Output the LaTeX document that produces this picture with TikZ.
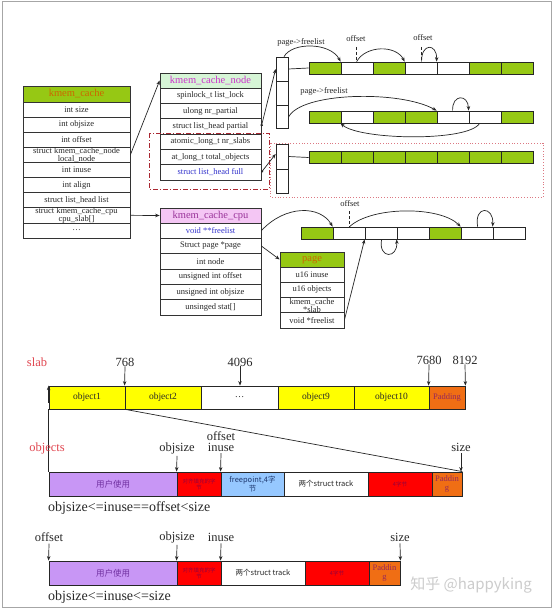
\documentclass[tikz,border=0pt]{standalone}
\usepackage{fontspec}
\setmainfont{Liberation Serif}
\newfontfamily\cjk{Noto Sans CJK SC}
\usetikzlibrary{arrows.meta}
\definecolor{sgreen}{RGB}{150,200,20}
\definecolor{kcorange}{RGB}{204,102,0}
\definecolor{nodehead}{RGB}{214,245,214}
\definecolor{nodetext}{RGB}{204,51,204}
\definecolor{cpuhead}{RGB}{244,198,244}
\definecolor{cputext}{RGB}{153,51,153}
\definecolor{fieldblue}{RGB}{51,51,204}
\definecolor{dashred}{RGB}{170,40,50}
\definecolor{dotpink}{RGB}{220,120,130}
\definecolor{labred}{RGB}{225,70,80}
\definecolor{yel}{RGB}{255,255,0}
\definecolor{padorange}{RGB}{240,110,20}
\definecolor{padtext}{RGB}{150,40,90}
\definecolor{lav}{RGB}{200,150,245}
\definecolor{lavtext}{RGB}{112,48,160}
\definecolor{lblue}{RGB}{150,200,255}
\definecolor{fptext}{RGB}{30,55,110}
\definecolor{redtext}{RGB}{150,0,60}
\definecolor{ink}{RGB}{40,40,40}
\tikzset{
  cell/.style={draw=black!80, line width=0.7pt, inner sep=0pt, align=center, text=ink, font=\fontsize{8.5}{6.8}\selectfont},
  head/.style={cell, font=\fontsize{10.5}{10}\selectfont},
  slabcell/.style={draw=black!85, line width=0.8pt, inner sep=0pt, minimum width=32pt, minimum height=12pt},
  colbox/.style={draw=black!85, line width=0.7pt, inner sep=0pt, minimum width=12pt},
  arr/.style={-{Stealth[length=4.5pt,width=3.5pt]}, line width=0.7pt, black!85},
  darr/.style={{Circle[length=2.5pt]}-{Stealth[length=4.5pt,width=3.5pt]}, line width=0.7pt, black!85},
  conn/.style={line width=0.7pt, black!85},
  small/.style={font=\fontsize{8.5}{8.5}\selectfont, inner sep=0pt, text=ink},
  bar/.style={draw=black!85, line width=0.8pt, inner sep=0pt, minimum height=23pt, align=center, text=ink, font=\fontsize{9.5}{9.5}\selectfont},
  tick/.style={font=\fontsize{12.5}{11}\selectfont, inner sep=0pt, align=center, text=ink},
  redlab/.style={font=\fontsize{12.5}{12.5}\selectfont, text=labred, inner sep=0pt},
  formula/.style={font=\fontsize{14}{14}\selectfont, inner sep=0pt, anchor=west, text=ink},
  cjktxt/.style={font=\cjk\fontsize{8.5}{9}\selectfont},
  redcjk/.style={font=\cjk\fontsize{5.5}{6}\selectfont},
}
\begin{document}
\begin{tikzpicture}[x=1pt,y=-1pt]
\useasboundingbox (0,0) rectangle (554,610);
\fill[white] (0,0) rectangle (554,610);
\draw[gray!70, line width=1pt] (2,2) rectangle (551,607);

% kmem_cache
\node[head, fill=sgreen, text=kcorange, minimum width=107pt, minimum height=16pt] (kc0) at (76.5,94) {kmem\_cache};
\foreach \t [count=\i] in {int size, int objsize, int offset, {struct kmem\_cache\_node\\local\_node}, int inuse, int align, struct list\_head list, {struct kmem\_cache\_cpu\\cpu\_slab[]}}
  \node[cell, minimum width=107pt, minimum height=15.11pt] (kc\i) at (76.5,{102+15.11*(\i-0.5)}) {\t};
\node[cell, minimum width=107pt, minimum height=15.11pt] (kc9) at (76.5,{102+15.11*8.5}) {\ldots};

% kmem_cache_node
\node[head, fill=nodehead, text=nodetext, minimum width=101pt, minimum height=15pt] (kn0) at (210.5,80.5) {kmem\_cache\_node};
\foreach \t [count=\i] in {spinlock\_t list\_lock, ulong nr\_partial, struct list\_head partial, atomic\_long\_t nr\_slabs, at\_long\_t total\_objects, \textcolor{fieldblue}{struct list\_head full}}
  \node[cell, minimum width=101pt, minimum height=15.33pt] (kn\i) at (210.5,{88+15.33*(\i-0.5)}) {\t};

% kmem_cache_cpu
\node[head, fill=cpuhead, text=cputext, minimum width=101pt, minimum height=15pt] (kcc0) at (210.5,215.5) {kmem\_cache\_cpu};
\foreach \t [count=\i] in {\textcolor{fieldblue}{void **freelist}, Struct page *page, int node, unsigned int offset, unsigned int objsize, unsinged stat[]}
  \node[cell, minimum width=101pt, minimum height=15.33pt] (kcc\i) at (210.5,{223+15.33*(\i-0.5)}) {\t};

% page
\node[head, fill=sgreen, text=kcorange, minimum width=64pt, minimum height=15pt] (pg0) at (312,259.5) {page};
\foreach \t [count=\i] in {u16 inuse, u16 objects, {kmem\_cache\\*slab}, void *freelist}
  \node[cell, minimum width=64pt, minimum height=15.25pt] (pg\i) at (312,{267+15.25*(\i-0.5)}) {\t};

% boxes
\draw[dashred, line width=0.8pt, dash pattern=on 5pt off 2pt on 1pt off 2pt] (149,133) rectangle (269,189);
\draw[dotpink, line width=0.8pt, dotted] (270,143) rectangle (543,197);

% page pointer columns
\node[colbox, minimum height=24pt] (c1a) at (282,69) {};
\node[colbox, minimum height=24pt] (c1b) at (282,93) {};
\node[colbox, minimum height=23pt] (c1c) at (282,116.5) {};
\node[colbox, minimum height=25pt] (c2a) at (282,156.5) {};
\node[colbox, minimum height=24pt] (c2b) at (282,181) {};

% slab rows
\foreach \c [count=\i] in {sgreen,white,sgreen,white,white,sgreen,sgreen}
  \node[slabcell, fill=\c] (ra\i) at ({309+32*(\i-0.5)},68) {};
\foreach \c [count=\i] in {sgreen,white,sgreen,sgreen,white,white,sgreen}
  \node[slabcell, fill=\c] (rb\i) at ({309+32*(\i-0.5)},117) {};
\foreach \i in {1,2,3,4,5,6,7}
  \node[slabcell, fill=sgreen] (rc\i) at ({309+32*(\i-0.5)},157.5) {};
\foreach \c [count=\i] in {sgreen,white,white,white,sgreen,white,white}
  \node[slabcell, fill=\c] (rd\i) at ({301+32*(\i-0.5)},233) {};

% connectors top
\draw[arr] (kc4.east) -- (kn0.west);
\draw[arr] (kc8.east) -- (kcc0.west);
\draw[darr] (kn3.east) -- (c1a.west);
\draw[darr] (kn6.east) -- ([yshift=2.5pt]c2a.west);
\draw[conn] (c1a.east) -- (ra1.west);
\draw[conn] (c2a.east) -- (rc1.west);
\draw[arr] (kcc2.east) -- (pg0.west);
\draw[arr] (pg4.east) -- (rd3.south west);

% row 1
\node[small] (pf1) at (301,42) {page->freelist};
\draw[arr] ([xshift=2pt]c1a.north) .. controls (292,42) and (330,42) .. (ra2.north west);
\node[small] (of1) at (356,39) {offset};
\coordinate (da1) at (356,47);
\draw[conn, densely dashed, line width=1pt] (da1) -- (da1 |- ra2.north);
\draw[arr] ([xshift=16pt]ra2.north west) .. controls (366,45) and (396,45) .. (ra4.north west);
\node[small] (of2) at (423,38) {offset};
\coordinate (da2) at (421,47);
\draw[conn, densely dashed, line width=1pt] (da2) -- (da2 |- ra4.north);
\draw[arr] ([xshift=17pt]ra4.north west) .. controls (421,43) and (437,43) .. (ra5.north west);

% row 2
\node[small] (pf2) at (324,91) {page->freelist};
\draw[arr] ([yshift=-1pt]c1c.east) .. controls (300,92) and (400,90) .. (rb5.north west);
\draw[arr] ([xshift=-16pt]rb6.north west) .. controls (452,94) and (468,94) .. (rb6.north west);
\draw[arr] ([xshift=-21pt]rb7.south west) .. controls (468,142) and (360,140) .. (rb2.south west);

% row 3 (cpu slab)
\draw[arr] (kcc1.east) .. controls (285,205) and (320,205) .. (rd2.north west);
\node[small] (of3) at (350,204) {offset};
\coordinate (da3) at (349,211);
\draw[conn, densely dashed, line width=1pt] (da3) -- (da3 |- rd2.north);
\draw[arr] ([xshift=17pt]rd2.north west) .. controls (372,206) and (440,206) .. (rd6.north west);
\draw[arr] ([xshift=17pt]rd6.north west) .. controls (474,205) and (494,206) .. (rd7.north west);
\draw[arr] ([xshift=17pt]rd3.south west) .. controls (378,259) and (398,259) .. (rd4.south west);

% slab bar
\node[bar, fill=yel, minimum width=76pt] (o1) at (87,397.5) {object1};
\node[bar, fill=yel, minimum width=76pt] (o2) at (163,397.5) {object2};
\node[bar, fill=white, minimum width=77pt] (o3) at (239.5,397.5) {\ldots};
\node[bar, fill=yel, minimum width=76pt] (o9) at (316,397.5) {object9};
\node[bar, fill=yel, minimum width=75pt] (o10) at (391.5,397.5) {object10};
\node[bar, fill=padorange, text=padtext, minimum width=36pt, font=\fontsize{8.5}{8.5}\selectfont] (op) at (447,397.5) {Padding};

\node[redlab] (slabl) at (37,362) {slab};
\node[tick] (t768) at (125,362) {768};
\node[tick] (t4096) at (240,362) {4096};
\node[tick] (t7680) at (429,360) {7680};
\node[tick] (t8192) at (465,360) {8192};
\draw[arr] ([yshift=-17pt]o1.north west) -- (o1.north west);
\draw[arr] (t768.south) -- (o2.north west);
\draw[arr] (t4096.south) -- (t4096.south |- o3.north);
\draw[arr] (t7680.south) -- (op.north west);
\draw[arr] (t8192.south) -- (op.north east);

% objects bar 1
\node[bar, fill=lav, text=lavtext, minimum width=128pt, minimum height=24pt, cjktxt] (u1) at (113,484) {用户使用};
\node[bar, fill=red, text=redtext, minimum width=44pt, minimum height=24pt, redcjk] (rr1) at (199,484) {对齐填充的字\\节};
\node[bar, fill=lblue, text=fptext, minimum width=63pt, minimum height=24pt, font=\cjk\fontsize{7.5}{8}\selectfont] (fp1) at (252.5,484) {freepoint,4字\\节};
\node[bar, fill=white, minimum width=84pt, minimum height=24pt, font=\cjk\fontsize{7.5}{8}\selectfont] (tr1) at (326,484) {两个struct track};
\node[bar, fill=red, text=redtext, minimum width=64pt, minimum height=24pt, redcjk] (rr2) at (400,484) {4字节};
\node[bar, fill=padorange, text=padtext, minimum width=30pt, minimum height=24pt, font=\fontsize{8.5}{8.5}\selectfont] (p1) at (447,484) {Paddin\\g};

\draw[conn] (o1.south west) -- (u1.north west);
\draw[conn] (o1.south east) -- (p1.north east);

\node[redlab] (objl) at (47,448) {objects};
\node[tick] (os1) at (177,448) {objsize};
\node[tick] (oi1) at (221,442) {offset\\inuse};
\node[tick] (sz1) at (461,447) {size};
\draw[arr] ([yshift=-2pt]os1.south) -- (rr1.north west);
\draw[arr] ([yshift=-1pt]oi1.south) -- (fp1.north west);
\draw[arr] ([yshift=-2pt]sz1.south) -- (sz1.south |- p1.north);

\node[formula] (f1) at (48,508) {objsize<=inuse==offset<size};

% objects bar 2
\node[tick] (of4) at (49,537) {offset};
\node[tick] (os2) at (177,537) {objsize};
\node[tick] (oi2) at (221,537) {inuse};
\node[tick] (sz2) at (400,537) {size};

\node[bar, fill=lav, text=lavtext, minimum width=128pt, minimum height=24pt, cjktxt] (u2) at (113,573) {用户使用};
\node[bar, fill=red, text=redtext, minimum width=44pt, minimum height=24pt, redcjk] (rr3) at (199,573) {对齐填充的字\\节};
\node[bar, fill=white, minimum width=84pt, minimum height=24pt, font=\cjk\fontsize{7.5}{8}\selectfont] (tr2) at (263,573) {两个struct track};
\node[bar, fill=red, text=redtext, minimum width=64pt, minimum height=24pt, redcjk] (rr4) at (337,573) {4字节};
\node[bar, fill=padorange, text=padtext, minimum width=31pt, minimum height=24pt, font=\fontsize{8.5}{8.5}\selectfont] (p2) at (384.5,573) {Paddin\\g};

\draw[arr] ([yshift=-2pt]of4.south) -- (u2.north west);
\draw[arr] ([yshift=-2pt]os2.south) -- (rr3.north west);
\draw[arr] ([yshift=-2pt]oi2.south) -- (tr2.north west);
\draw[arr] ([yshift=-2pt]sz2.south) -- (p2.north east);

\node[formula] (f2) at (48,597) {objsize<=inuse<=size};

\node[font=\cjk\fontsize{15}{15}\selectfont, text=gray!40, inner sep=0pt] (wm) at (471,585) {知乎 @happyking};
\end{tikzpicture}
\end{document}
